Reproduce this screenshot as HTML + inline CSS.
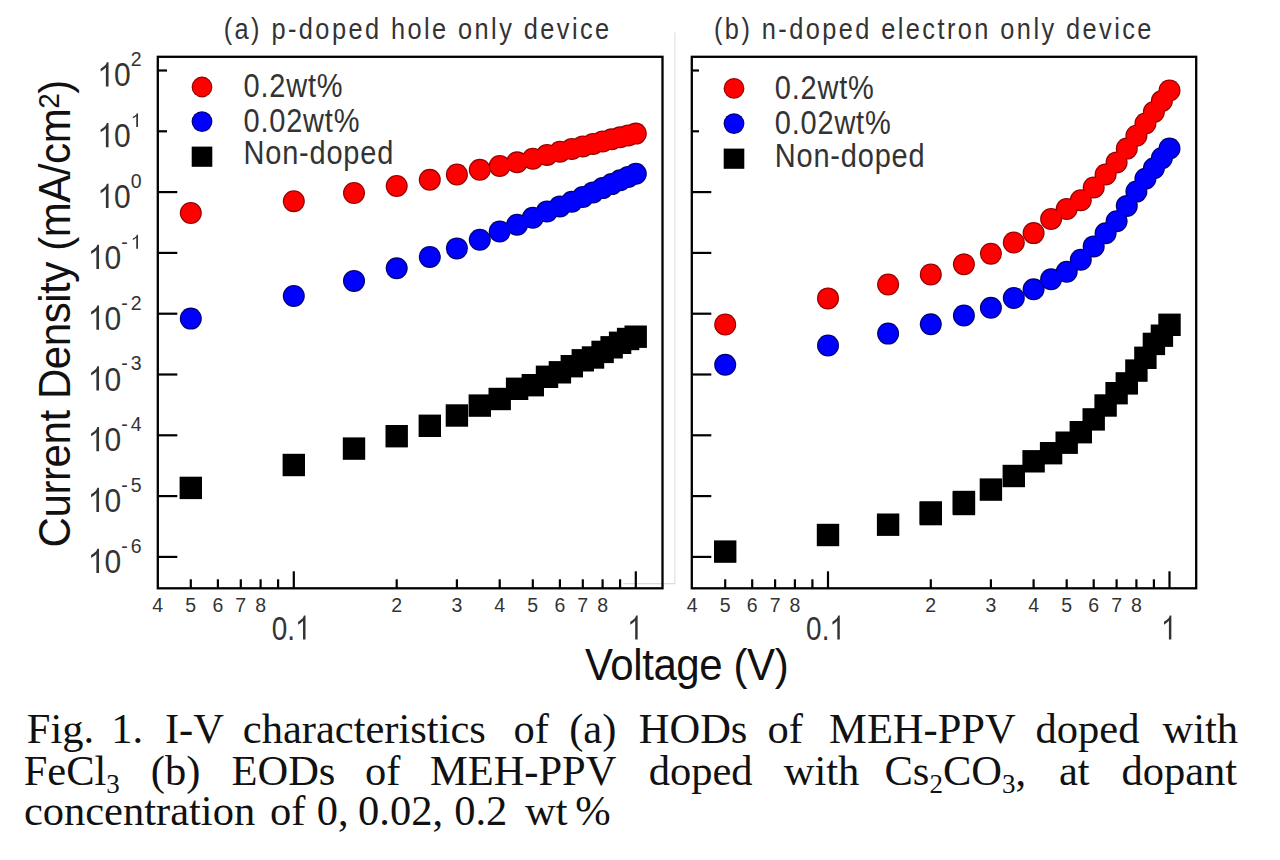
<!DOCTYPE html>
<html><head><meta charset="utf-8"><style>
html,body{margin:0;padding:0;background:#fff;width:1280px;height:860px;overflow:hidden}
svg{position:absolute;left:0;top:0;font-family:"Liberation Sans",sans-serif}
.cw{position:absolute;font-family:"Liberation Serif",serif;font-size:42.5px;color:#111;white-space:nowrap;line-height:1}
sub{font-size:27px;vertical-align:baseline;position:relative;top:8px}
</style></head><body>
<svg width="1280" height="860" viewBox="0 0 1280 860">
<line x1="674.9" y1="32.4" x2="674.9" y2="583.7" stroke="#e2e2e2" stroke-width="1.2"/>
<line x1="623.3" y1="583.7" x2="674.9" y2="583.7" stroke="#dcdcdc" stroke-width="1.2"/>
<line x1="157.8" y1="70.5" x2="177.3" y2="70.5" stroke="#000" stroke-width="2.2"/>
<line x1="157.8" y1="131.3" x2="177.3" y2="131.3" stroke="#000" stroke-width="2.2"/>
<line x1="157.8" y1="192.1" x2="177.3" y2="192.1" stroke="#000" stroke-width="2.2"/>
<line x1="157.8" y1="252.9" x2="177.3" y2="252.9" stroke="#000" stroke-width="2.2"/>
<line x1="157.8" y1="313.7" x2="177.3" y2="313.7" stroke="#000" stroke-width="2.2"/>
<line x1="157.8" y1="374.5" x2="177.3" y2="374.5" stroke="#000" stroke-width="2.2"/>
<line x1="157.8" y1="435.3" x2="177.3" y2="435.3" stroke="#000" stroke-width="2.2"/>
<line x1="157.8" y1="496.1" x2="177.3" y2="496.1" stroke="#000" stroke-width="2.2"/>
<line x1="157.8" y1="556.9" x2="177.3" y2="556.9" stroke="#000" stroke-width="2.2"/>
<line x1="190.8" y1="588.3" x2="190.8" y2="579.3" stroke="#000" stroke-width="2.2"/>
<line x1="217.9" y1="588.3" x2="217.9" y2="579.3" stroke="#000" stroke-width="2.2"/>
<line x1="240.8" y1="588.3" x2="240.8" y2="579.3" stroke="#000" stroke-width="2.2"/>
<line x1="260.6" y1="588.3" x2="260.6" y2="579.3" stroke="#000" stroke-width="2.2"/>
<line x1="278.1" y1="588.3" x2="278.1" y2="579.3" stroke="#000" stroke-width="2.2"/>
<line x1="396.7" y1="588.3" x2="396.7" y2="579.3" stroke="#000" stroke-width="2.2"/>
<line x1="456.9" y1="588.3" x2="456.9" y2="579.3" stroke="#000" stroke-width="2.2"/>
<line x1="499.7" y1="588.3" x2="499.7" y2="579.3" stroke="#000" stroke-width="2.2"/>
<line x1="532.8" y1="588.3" x2="532.8" y2="579.3" stroke="#000" stroke-width="2.2"/>
<line x1="559.9" y1="588.3" x2="559.9" y2="579.3" stroke="#000" stroke-width="2.2"/>
<line x1="582.8" y1="588.3" x2="582.8" y2="579.3" stroke="#000" stroke-width="2.2"/>
<line x1="602.6" y1="588.3" x2="602.6" y2="579.3" stroke="#000" stroke-width="2.2"/>
<line x1="620.1" y1="588.3" x2="620.1" y2="579.3" stroke="#000" stroke-width="2.2"/>
<line x1="293.8" y1="588.3" x2="293.8" y2="571.3" stroke="#000" stroke-width="2.2"/>
<line x1="635.8" y1="588.3" x2="635.8" y2="571.3" stroke="#000" stroke-width="2.2"/>
<text x="157.7" y="612.3" font-size="19.5" text-anchor="middle" fill="#333333">4</text>
<text x="190.8" y="612.3" font-size="19.5" text-anchor="middle" fill="#333333">5</text>
<text x="217.9" y="612.3" font-size="19.5" text-anchor="middle" fill="#333333">6</text>
<text x="240.8" y="612.3" font-size="19.5" text-anchor="middle" fill="#333333">7</text>
<text x="260.6" y="612.3" font-size="19.5" text-anchor="middle" fill="#333333">8</text>
<text x="396.7" y="612.3" font-size="19.5" text-anchor="middle" fill="#333333">2</text>
<text x="456.9" y="612.3" font-size="19.5" text-anchor="middle" fill="#333333">3</text>
<text x="499.7" y="612.3" font-size="19.5" text-anchor="middle" fill="#333333">4</text>
<text x="532.8" y="612.3" font-size="19.5" text-anchor="middle" fill="#333333">5</text>
<text x="559.9" y="612.3" font-size="19.5" text-anchor="middle" fill="#333333">6</text>
<text x="582.8" y="612.3" font-size="19.5" text-anchor="middle" fill="#333333">7</text>
<text x="602.6" y="612.3" font-size="19.5" text-anchor="middle" fill="#333333">8</text>
<g transform="translate(291.2,639.5) scale(0.93,1.12)"><text x="-20.85" y="0" font-size="30" fill="#333333">0.</text><path d="M373 0L285 0L285 560C263 540 240 520 211 500C178 478 143 458 109 441L109 526C160 552 220 590 271 632C290 655 305 685 316 716L373 716Z" fill="#333333" transform="translate(4.17,0.00) scale(0.03000,-0.03000)"/></g>
<g transform="translate(635.0,639.5) scale(0.93,1.12)"><path d="M373 0L285 0L285 560C263 540 240 520 211 500C178 478 143 458 109 441L109 526C160 552 220 590 271 632C290 655 305 685 316 716L373 716Z" fill="#333333" transform="translate(-8.34,0.00) scale(0.03000,-0.03000)"/></g>
<line x1="691.8" y1="70.5" x2="711.3" y2="70.5" stroke="#000" stroke-width="2.2"/>
<line x1="691.8" y1="131.3" x2="711.3" y2="131.3" stroke="#000" stroke-width="2.2"/>
<line x1="691.8" y1="192.1" x2="711.3" y2="192.1" stroke="#000" stroke-width="2.2"/>
<line x1="691.8" y1="252.9" x2="711.3" y2="252.9" stroke="#000" stroke-width="2.2"/>
<line x1="691.8" y1="313.7" x2="711.3" y2="313.7" stroke="#000" stroke-width="2.2"/>
<line x1="691.8" y1="374.5" x2="711.3" y2="374.5" stroke="#000" stroke-width="2.2"/>
<line x1="691.8" y1="435.3" x2="711.3" y2="435.3" stroke="#000" stroke-width="2.2"/>
<line x1="691.8" y1="496.1" x2="711.3" y2="496.1" stroke="#000" stroke-width="2.2"/>
<line x1="691.8" y1="556.9" x2="711.3" y2="556.9" stroke="#000" stroke-width="2.2"/>
<line x1="725.2" y1="588.3" x2="725.2" y2="579.3" stroke="#000" stroke-width="2.2"/>
<line x1="752.2" y1="588.3" x2="752.2" y2="579.3" stroke="#000" stroke-width="2.2"/>
<line x1="775.1" y1="588.3" x2="775.1" y2="579.3" stroke="#000" stroke-width="2.2"/>
<line x1="794.9" y1="588.3" x2="794.9" y2="579.3" stroke="#000" stroke-width="2.2"/>
<line x1="812.4" y1="588.3" x2="812.4" y2="579.3" stroke="#000" stroke-width="2.2"/>
<line x1="930.8" y1="588.3" x2="930.8" y2="579.3" stroke="#000" stroke-width="2.2"/>
<line x1="990.9" y1="588.3" x2="990.9" y2="579.3" stroke="#000" stroke-width="2.2"/>
<line x1="1033.6" y1="588.3" x2="1033.6" y2="579.3" stroke="#000" stroke-width="2.2"/>
<line x1="1066.7" y1="588.3" x2="1066.7" y2="579.3" stroke="#000" stroke-width="2.2"/>
<line x1="1093.7" y1="588.3" x2="1093.7" y2="579.3" stroke="#000" stroke-width="2.2"/>
<line x1="1116.6" y1="588.3" x2="1116.6" y2="579.3" stroke="#000" stroke-width="2.2"/>
<line x1="1136.4" y1="588.3" x2="1136.4" y2="579.3" stroke="#000" stroke-width="2.2"/>
<line x1="1153.9" y1="588.3" x2="1153.9" y2="579.3" stroke="#000" stroke-width="2.2"/>
<line x1="828.0" y1="588.3" x2="828.0" y2="571.3" stroke="#000" stroke-width="2.2"/>
<line x1="1169.5" y1="588.3" x2="1169.5" y2="571.3" stroke="#000" stroke-width="2.2"/>
<text x="692.1" y="612.3" font-size="19.5" text-anchor="middle" fill="#333333">4</text>
<text x="725.2" y="612.3" font-size="19.5" text-anchor="middle" fill="#333333">5</text>
<text x="752.2" y="612.3" font-size="19.5" text-anchor="middle" fill="#333333">6</text>
<text x="775.1" y="612.3" font-size="19.5" text-anchor="middle" fill="#333333">7</text>
<text x="794.9" y="612.3" font-size="19.5" text-anchor="middle" fill="#333333">8</text>
<text x="930.8" y="612.3" font-size="19.5" text-anchor="middle" fill="#333333">2</text>
<text x="990.9" y="612.3" font-size="19.5" text-anchor="middle" fill="#333333">3</text>
<text x="1033.6" y="612.3" font-size="19.5" text-anchor="middle" fill="#333333">4</text>
<text x="1066.7" y="612.3" font-size="19.5" text-anchor="middle" fill="#333333">5</text>
<text x="1093.7" y="612.3" font-size="19.5" text-anchor="middle" fill="#333333">6</text>
<text x="1116.6" y="612.3" font-size="19.5" text-anchor="middle" fill="#333333">7</text>
<text x="1136.4" y="612.3" font-size="19.5" text-anchor="middle" fill="#333333">8</text>
<g transform="translate(825.5,639.5) scale(0.93,1.12)"><text x="-20.85" y="0" font-size="30" fill="#333333">0.</text><path d="M373 0L285 0L285 560C263 540 240 520 211 500C178 478 143 458 109 441L109 526C160 552 220 590 271 632C290 655 305 685 316 716L373 716Z" fill="#333333" transform="translate(4.17,0.00) scale(0.03000,-0.03000)"/></g>
<g transform="translate(1168.7,639.5) scale(0.93,1.12)"><path d="M373 0L285 0L285 560C263 540 240 520 211 500C178 478 143 458 109 441L109 526C160 552 220 590 271 632C290 655 305 685 316 716L373 716Z" fill="#333333" transform="translate(-8.34,0.00) scale(0.03000,-0.03000)"/></g>
<path d="M373 0L285 0L285 560C263 540 240 520 211 500C178 478 143 458 109 441L109 526C160 552 220 590 271 632C290 655 305 685 316 716L373 716Z" fill="#333333" transform="translate(97.34,86.50) scale(0.03000,-0.03390)"/>
<text x="114.02" y="86.5" font-size="30" fill="#333333" transform="matrix(1,0,0,1.13,0,-11.24)">0</text>
<text x="130.7" y="66.3" font-size="19.5" fill="#333333">2</text>
<path d="M373 0L285 0L285 560C263 540 240 520 211 500C178 478 143 458 109 441L109 526C160 552 220 590 271 632C290 655 305 685 316 716L373 716Z" fill="#333333" transform="translate(97.34,147.30) scale(0.03000,-0.03390)"/>
<text x="114.02" y="147.3" font-size="30" fill="#333333" transform="matrix(1,0,0,1.13,0,-19.15)">0</text>
<path d="M373 0L285 0L285 560C263 540 240 520 211 500C178 478 143 458 109 441L109 526C160 552 220 590 271 632C290 655 305 685 316 716L373 716Z" fill="#333333" transform="translate(130.70,127.10) scale(0.01950,-0.01950)"/>
<path d="M373 0L285 0L285 560C263 540 240 520 211 500C178 478 143 458 109 441L109 526C160 552 220 590 271 632C290 655 305 685 316 716L373 716Z" fill="#333333" transform="translate(97.34,208.10) scale(0.03000,-0.03390)"/>
<text x="114.02" y="208.1" font-size="30" fill="#333333" transform="matrix(1,0,0,1.13,0,-27.05)">0</text>
<text x="130.7" y="187.9" font-size="19.5" fill="#333333">0</text>
<path d="M373 0L285 0L285 560C263 540 240 520 211 500C178 478 143 458 109 441L109 526C160 552 220 590 271 632C290 655 305 685 316 716L373 716Z" fill="#333333" transform="translate(87.84,268.90) scale(0.03000,-0.03390)"/>
<text x="104.52" y="268.9" font-size="30" fill="#333333" transform="matrix(1,0,0,1.13,0,-34.96)">0</text>
<text x="121.2" y="248.7" font-size="19.5" fill="#333333">-</text>
<path d="M373 0L285 0L285 560C263 540 240 520 211 500C178 478 143 458 109 441L109 526C160 552 220 590 271 632C290 655 305 685 316 716L373 716Z" fill="#333333" transform="translate(130.70,248.70) scale(0.01950,-0.01950)"/>
<path d="M373 0L285 0L285 560C263 540 240 520 211 500C178 478 143 458 109 441L109 526C160 552 220 590 271 632C290 655 305 685 316 716L373 716Z" fill="#333333" transform="translate(87.84,329.70) scale(0.03000,-0.03390)"/>
<text x="104.52" y="329.7" font-size="30" fill="#333333" transform="matrix(1,0,0,1.13,0,-42.86)">0</text>
<text x="121.2" y="309.5" font-size="19.5" fill="#333333">-</text>
<text x="130.7" y="309.5" font-size="19.5" fill="#333333">2</text>
<path d="M373 0L285 0L285 560C263 540 240 520 211 500C178 478 143 458 109 441L109 526C160 552 220 590 271 632C290 655 305 685 316 716L373 716Z" fill="#333333" transform="translate(87.84,390.50) scale(0.03000,-0.03390)"/>
<text x="104.52" y="390.5" font-size="30" fill="#333333" transform="matrix(1,0,0,1.13,0,-50.76)">0</text>
<text x="121.2" y="370.3" font-size="19.5" fill="#333333">-</text>
<text x="130.7" y="370.3" font-size="19.5" fill="#333333">3</text>
<path d="M373 0L285 0L285 560C263 540 240 520 211 500C178 478 143 458 109 441L109 526C160 552 220 590 271 632C290 655 305 685 316 716L373 716Z" fill="#333333" transform="translate(87.84,451.30) scale(0.03000,-0.03390)"/>
<text x="104.52" y="451.3" font-size="30" fill="#333333" transform="matrix(1,0,0,1.13,0,-58.67)">0</text>
<text x="121.2" y="431.1" font-size="19.5" fill="#333333">-</text>
<text x="130.7" y="431.1" font-size="19.5" fill="#333333">4</text>
<path d="M373 0L285 0L285 560C263 540 240 520 211 500C178 478 143 458 109 441L109 526C160 552 220 590 271 632C290 655 305 685 316 716L373 716Z" fill="#333333" transform="translate(87.84,512.10) scale(0.03000,-0.03390)"/>
<text x="104.52" y="512.1" font-size="30" fill="#333333" transform="matrix(1,0,0,1.13,0,-66.57)">0</text>
<text x="121.2" y="491.9" font-size="19.5" fill="#333333">-</text>
<text x="130.7" y="491.9" font-size="19.5" fill="#333333">5</text>
<path d="M373 0L285 0L285 560C263 540 240 520 211 500C178 478 143 458 109 441L109 526C160 552 220 590 271 632C290 655 305 685 316 716L373 716Z" fill="#333333" transform="translate(87.84,572.90) scale(0.03000,-0.03390)"/>
<text x="104.52" y="572.9" font-size="30" fill="#333333" transform="matrix(1,0,0,1.13,0,-74.48)">0</text>
<text x="121.2" y="552.7" font-size="19.5" fill="#333333">-</text>
<text x="130.7" y="552.7" font-size="19.5" fill="#333333">6</text>
<rect x="179.6" y="476.7" width="22.4" height="22.4" fill="#000"/>
<rect x="282.6" y="453.8" width="22.4" height="22.4" fill="#000"/>
<rect x="342.8" y="437.4" width="22.4" height="22.4" fill="#000"/>
<rect x="385.5" y="425.0" width="22.4" height="22.4" fill="#000"/>
<rect x="418.6" y="414.6" width="22.4" height="22.4" fill="#000"/>
<rect x="445.7" y="404.3" width="22.4" height="22.4" fill="#000"/>
<rect x="468.6" y="394.4" width="22.4" height="22.4" fill="#000"/>
<rect x="488.5" y="387.8" width="22.4" height="22.4" fill="#000"/>
<rect x="505.9" y="377.6" width="22.4" height="22.4" fill="#000"/>
<rect x="521.6" y="374.0" width="22.4" height="22.4" fill="#000"/>
<rect x="535.8" y="365.6" width="22.4" height="22.4" fill="#000"/>
<rect x="548.7" y="361.1" width="22.4" height="22.4" fill="#000"/>
<rect x="560.6" y="355.0" width="22.4" height="22.4" fill="#000"/>
<rect x="571.6" y="349.1" width="22.4" height="22.4" fill="#000"/>
<rect x="581.8" y="346.3" width="22.4" height="22.4" fill="#000"/>
<rect x="591.4" y="340.7" width="22.4" height="22.4" fill="#000"/>
<rect x="600.4" y="336.1" width="22.4" height="22.4" fill="#000"/>
<rect x="608.9" y="331.6" width="22.4" height="22.4" fill="#000"/>
<rect x="616.9" y="327.8" width="22.4" height="22.4" fill="#000"/>
<rect x="624.5" y="325.5" width="22.4" height="22.4" fill="#000"/>
<circle cx="190.8" cy="318.6" r="11.0" fill="#000070"/>
<circle cx="293.8" cy="296.0" r="11.0" fill="#000070"/>
<circle cx="354.0" cy="280.9" r="11.0" fill="#000070"/>
<circle cx="396.7" cy="268.3" r="11.0" fill="#000070"/>
<circle cx="429.8" cy="256.9" r="11.0" fill="#000070"/>
<circle cx="456.9" cy="248.4" r="11.0" fill="#000070"/>
<circle cx="479.8" cy="239.7" r="11.0" fill="#000070"/>
<circle cx="499.7" cy="231.5" r="11.0" fill="#000070"/>
<circle cx="517.1" cy="224.7" r="11.0" fill="#000070"/>
<circle cx="532.8" cy="217.7" r="11.0" fill="#000070"/>
<circle cx="547.0" cy="211.4" r="11.0" fill="#000070"/>
<circle cx="559.9" cy="206.4" r="11.0" fill="#000070"/>
<circle cx="571.8" cy="201.8" r="11.0" fill="#000070"/>
<circle cx="582.8" cy="197.0" r="11.0" fill="#000070"/>
<circle cx="593.0" cy="192.4" r="11.0" fill="#000070"/>
<circle cx="602.6" cy="188.1" r="11.0" fill="#000070"/>
<circle cx="611.6" cy="184.1" r="11.0" fill="#000070"/>
<circle cx="620.1" cy="180.3" r="11.0" fill="#000070"/>
<circle cx="628.1" cy="176.9" r="11.0" fill="#000070"/>
<circle cx="635.8" cy="173.7" r="11.0" fill="#000070"/>
<circle cx="190.8" cy="318.6" r="9.9" fill="#0000ff"/>
<circle cx="293.8" cy="296.0" r="9.9" fill="#0000ff"/>
<circle cx="354.0" cy="280.9" r="9.9" fill="#0000ff"/>
<circle cx="396.7" cy="268.3" r="9.9" fill="#0000ff"/>
<circle cx="429.8" cy="256.9" r="9.9" fill="#0000ff"/>
<circle cx="456.9" cy="248.4" r="9.9" fill="#0000ff"/>
<circle cx="479.8" cy="239.7" r="9.9" fill="#0000ff"/>
<circle cx="499.7" cy="231.5" r="9.9" fill="#0000ff"/>
<circle cx="517.1" cy="224.7" r="9.9" fill="#0000ff"/>
<circle cx="532.8" cy="217.7" r="9.9" fill="#0000ff"/>
<circle cx="547.0" cy="211.4" r="9.9" fill="#0000ff"/>
<circle cx="559.9" cy="206.4" r="9.9" fill="#0000ff"/>
<circle cx="571.8" cy="201.8" r="9.9" fill="#0000ff"/>
<circle cx="582.8" cy="197.0" r="9.9" fill="#0000ff"/>
<circle cx="593.0" cy="192.4" r="9.9" fill="#0000ff"/>
<circle cx="602.6" cy="188.1" r="9.9" fill="#0000ff"/>
<circle cx="611.6" cy="184.1" r="9.9" fill="#0000ff"/>
<circle cx="620.1" cy="180.3" r="9.9" fill="#0000ff"/>
<circle cx="628.1" cy="176.9" r="9.9" fill="#0000ff"/>
<circle cx="635.8" cy="173.7" r="9.9" fill="#0000ff"/>
<circle cx="190.8" cy="213.0" r="11.0" fill="#900000"/>
<circle cx="293.8" cy="201.2" r="11.0" fill="#900000"/>
<circle cx="354.0" cy="193.0" r="11.0" fill="#900000"/>
<circle cx="396.7" cy="186.0" r="11.0" fill="#900000"/>
<circle cx="429.8" cy="179.8" r="11.0" fill="#900000"/>
<circle cx="456.9" cy="174.5" r="11.0" fill="#900000"/>
<circle cx="479.8" cy="169.8" r="11.0" fill="#900000"/>
<circle cx="499.7" cy="166.0" r="11.0" fill="#900000"/>
<circle cx="517.1" cy="162.3" r="11.0" fill="#900000"/>
<circle cx="532.8" cy="158.7" r="11.0" fill="#900000"/>
<circle cx="547.0" cy="154.9" r="11.0" fill="#900000"/>
<circle cx="559.9" cy="151.7" r="11.0" fill="#900000"/>
<circle cx="571.8" cy="148.9" r="11.0" fill="#900000"/>
<circle cx="582.8" cy="146.4" r="11.0" fill="#900000"/>
<circle cx="593.0" cy="143.9" r="11.0" fill="#900000"/>
<circle cx="602.6" cy="141.5" r="11.0" fill="#900000"/>
<circle cx="611.6" cy="139.3" r="11.0" fill="#900000"/>
<circle cx="620.1" cy="137.3" r="11.0" fill="#900000"/>
<circle cx="628.1" cy="135.4" r="11.0" fill="#900000"/>
<circle cx="635.8" cy="133.6" r="11.0" fill="#900000"/>
<circle cx="190.8" cy="213.0" r="9.9" fill="#ff0000"/>
<circle cx="293.8" cy="201.2" r="9.9" fill="#ff0000"/>
<circle cx="354.0" cy="193.0" r="9.9" fill="#ff0000"/>
<circle cx="396.7" cy="186.0" r="9.9" fill="#ff0000"/>
<circle cx="429.8" cy="179.8" r="9.9" fill="#ff0000"/>
<circle cx="456.9" cy="174.5" r="9.9" fill="#ff0000"/>
<circle cx="479.8" cy="169.8" r="9.9" fill="#ff0000"/>
<circle cx="499.7" cy="166.0" r="9.9" fill="#ff0000"/>
<circle cx="517.1" cy="162.3" r="9.9" fill="#ff0000"/>
<circle cx="532.8" cy="158.7" r="9.9" fill="#ff0000"/>
<circle cx="547.0" cy="154.9" r="9.9" fill="#ff0000"/>
<circle cx="559.9" cy="151.7" r="9.9" fill="#ff0000"/>
<circle cx="571.8" cy="148.9" r="9.9" fill="#ff0000"/>
<circle cx="582.8" cy="146.4" r="9.9" fill="#ff0000"/>
<circle cx="593.0" cy="143.9" r="9.9" fill="#ff0000"/>
<circle cx="602.6" cy="141.5" r="9.9" fill="#ff0000"/>
<circle cx="611.6" cy="139.3" r="9.9" fill="#ff0000"/>
<circle cx="620.1" cy="137.3" r="9.9" fill="#ff0000"/>
<circle cx="628.1" cy="135.4" r="9.9" fill="#ff0000"/>
<circle cx="635.8" cy="133.6" r="9.9" fill="#ff0000"/>
<rect x="714.0" y="540.4" width="22.4" height="22.4" fill="#000"/>
<rect x="816.8" y="523.8" width="22.4" height="22.4" fill="#000"/>
<rect x="876.9" y="513.5" width="22.4" height="22.4" fill="#000"/>
<rect x="919.6" y="501.8" width="22.4" height="22.4" fill="#000"/>
<rect x="952.7" y="491.8" width="22.4" height="22.4" fill="#000"/>
<rect x="979.7" y="478.4" width="22.4" height="22.4" fill="#000"/>
<rect x="1002.6" y="464.8" width="22.4" height="22.4" fill="#000"/>
<rect x="1022.4" y="450.1" width="22.4" height="22.4" fill="#000"/>
<rect x="1039.9" y="442.0" width="22.4" height="22.4" fill="#000"/>
<rect x="1055.5" y="431.5" width="22.4" height="22.4" fill="#000"/>
<rect x="1069.6" y="421.0" width="22.4" height="22.4" fill="#000"/>
<rect x="1082.5" y="408.2" width="22.4" height="22.4" fill="#000"/>
<rect x="1094.4" y="394.3" width="22.4" height="22.4" fill="#000"/>
<rect x="1105.4" y="382.0" width="22.4" height="22.4" fill="#000"/>
<rect x="1115.6" y="372.2" width="22.4" height="22.4" fill="#000"/>
<rect x="1125.2" y="359.4" width="22.4" height="22.4" fill="#000"/>
<rect x="1134.2" y="346.6" width="22.4" height="22.4" fill="#000"/>
<rect x="1142.7" y="332.7" width="22.4" height="22.4" fill="#000"/>
<rect x="1150.7" y="324.5" width="22.4" height="22.4" fill="#000"/>
<rect x="1158.3" y="313.6" width="22.4" height="22.4" fill="#000"/>
<circle cx="725.2" cy="364.8" r="11.0" fill="#000070"/>
<circle cx="828.0" cy="345.5" r="11.0" fill="#000070"/>
<circle cx="888.1" cy="333.6" r="11.0" fill="#000070"/>
<circle cx="930.8" cy="324.3" r="11.0" fill="#000070"/>
<circle cx="963.9" cy="315.5" r="11.0" fill="#000070"/>
<circle cx="990.9" cy="307.8" r="11.0" fill="#000070"/>
<circle cx="1013.8" cy="298.0" r="11.0" fill="#000070"/>
<circle cx="1033.6" cy="289.3" r="11.0" fill="#000070"/>
<circle cx="1051.1" cy="279.3" r="11.0" fill="#000070"/>
<circle cx="1066.7" cy="271.8" r="11.0" fill="#000070"/>
<circle cx="1080.8" cy="259.7" r="11.0" fill="#000070"/>
<circle cx="1093.7" cy="246.4" r="11.0" fill="#000070"/>
<circle cx="1105.6" cy="233.3" r="11.0" fill="#000070"/>
<circle cx="1116.6" cy="221.2" r="11.0" fill="#000070"/>
<circle cx="1126.8" cy="205.9" r="11.0" fill="#000070"/>
<circle cx="1136.4" cy="191.6" r="11.0" fill="#000070"/>
<circle cx="1145.4" cy="178.8" r="11.0" fill="#000070"/>
<circle cx="1153.9" cy="168.2" r="11.0" fill="#000070"/>
<circle cx="1161.9" cy="158.1" r="11.0" fill="#000070"/>
<circle cx="1169.5" cy="148.5" r="11.0" fill="#000070"/>
<circle cx="725.2" cy="364.8" r="9.9" fill="#0000ff"/>
<circle cx="828.0" cy="345.5" r="9.9" fill="#0000ff"/>
<circle cx="888.1" cy="333.6" r="9.9" fill="#0000ff"/>
<circle cx="930.8" cy="324.3" r="9.9" fill="#0000ff"/>
<circle cx="963.9" cy="315.5" r="9.9" fill="#0000ff"/>
<circle cx="990.9" cy="307.8" r="9.9" fill="#0000ff"/>
<circle cx="1013.8" cy="298.0" r="9.9" fill="#0000ff"/>
<circle cx="1033.6" cy="289.3" r="9.9" fill="#0000ff"/>
<circle cx="1051.1" cy="279.3" r="9.9" fill="#0000ff"/>
<circle cx="1066.7" cy="271.8" r="9.9" fill="#0000ff"/>
<circle cx="1080.8" cy="259.7" r="9.9" fill="#0000ff"/>
<circle cx="1093.7" cy="246.4" r="9.9" fill="#0000ff"/>
<circle cx="1105.6" cy="233.3" r="9.9" fill="#0000ff"/>
<circle cx="1116.6" cy="221.2" r="9.9" fill="#0000ff"/>
<circle cx="1126.8" cy="205.9" r="9.9" fill="#0000ff"/>
<circle cx="1136.4" cy="191.6" r="9.9" fill="#0000ff"/>
<circle cx="1145.4" cy="178.8" r="9.9" fill="#0000ff"/>
<circle cx="1153.9" cy="168.2" r="9.9" fill="#0000ff"/>
<circle cx="1161.9" cy="158.1" r="9.9" fill="#0000ff"/>
<circle cx="1169.5" cy="148.5" r="9.9" fill="#0000ff"/>
<circle cx="725.2" cy="324.5" r="11.0" fill="#900000"/>
<circle cx="828.0" cy="298.4" r="11.0" fill="#900000"/>
<circle cx="888.1" cy="284.5" r="11.0" fill="#900000"/>
<circle cx="930.8" cy="274.5" r="11.0" fill="#900000"/>
<circle cx="963.9" cy="264.3" r="11.0" fill="#900000"/>
<circle cx="990.9" cy="253.7" r="11.0" fill="#900000"/>
<circle cx="1013.8" cy="242.5" r="11.0" fill="#900000"/>
<circle cx="1033.6" cy="233.1" r="11.0" fill="#900000"/>
<circle cx="1051.1" cy="219.0" r="11.0" fill="#900000"/>
<circle cx="1066.7" cy="209.0" r="11.0" fill="#900000"/>
<circle cx="1080.8" cy="200.2" r="11.0" fill="#900000"/>
<circle cx="1093.7" cy="187.5" r="11.0" fill="#900000"/>
<circle cx="1105.6" cy="174.5" r="11.0" fill="#900000"/>
<circle cx="1116.6" cy="162.4" r="11.0" fill="#900000"/>
<circle cx="1126.8" cy="148.6" r="11.0" fill="#900000"/>
<circle cx="1136.4" cy="135.7" r="11.0" fill="#900000"/>
<circle cx="1145.4" cy="123.5" r="11.0" fill="#900000"/>
<circle cx="1153.9" cy="111.9" r="11.0" fill="#900000"/>
<circle cx="1161.9" cy="100.9" r="11.0" fill="#900000"/>
<circle cx="1169.5" cy="90.5" r="11.0" fill="#900000"/>
<circle cx="725.2" cy="324.5" r="9.9" fill="#ff0000"/>
<circle cx="828.0" cy="298.4" r="9.9" fill="#ff0000"/>
<circle cx="888.1" cy="284.5" r="9.9" fill="#ff0000"/>
<circle cx="930.8" cy="274.5" r="9.9" fill="#ff0000"/>
<circle cx="963.9" cy="264.3" r="9.9" fill="#ff0000"/>
<circle cx="990.9" cy="253.7" r="9.9" fill="#ff0000"/>
<circle cx="1013.8" cy="242.5" r="9.9" fill="#ff0000"/>
<circle cx="1033.6" cy="233.1" r="9.9" fill="#ff0000"/>
<circle cx="1051.1" cy="219.0" r="9.9" fill="#ff0000"/>
<circle cx="1066.7" cy="209.0" r="9.9" fill="#ff0000"/>
<circle cx="1080.8" cy="200.2" r="9.9" fill="#ff0000"/>
<circle cx="1093.7" cy="187.5" r="9.9" fill="#ff0000"/>
<circle cx="1105.6" cy="174.5" r="9.9" fill="#ff0000"/>
<circle cx="1116.6" cy="162.4" r="9.9" fill="#ff0000"/>
<circle cx="1126.8" cy="148.6" r="9.9" fill="#ff0000"/>
<circle cx="1136.4" cy="135.7" r="9.9" fill="#ff0000"/>
<circle cx="1145.4" cy="123.5" r="9.9" fill="#ff0000"/>
<circle cx="1153.9" cy="111.9" r="9.9" fill="#ff0000"/>
<circle cx="1161.9" cy="100.9" r="9.9" fill="#ff0000"/>
<circle cx="1169.5" cy="90.5" r="9.9" fill="#ff0000"/>
<rect x="919.6" y="501.3" width="22.4" height="24" fill="#000"/>
<rect x="952.7" y="490.8" width="22.4" height="24.4" fill="#000"/>
<rect x="157.8" y="56.8" width="504.7" height="531.5" fill="none" stroke="#000" stroke-width="2.3"/>
<rect x="691.8" y="56.8" width="504.4000000000001" height="531.5" fill="none" stroke="#000" stroke-width="2.3"/>
<rect x="167" y="62" width="240" height="108" fill="#fff"/>
<circle cx="202.0" cy="87.0" r="10.4" fill="#900000"/><circle cx="202.0" cy="87.0" r="9.3" fill="#ff0000"/>
<circle cx="202.0" cy="121.6" r="10.4" fill="#000070"/><circle cx="202.0" cy="121.6" r="9.3" fill="#0000ff"/>
<rect x="191.7" y="146.6" width="20.6" height="20.2" fill="#000"/>
<text x="243.5" y="97" font-size="29" letter-spacing="0.8" fill="#333333" transform="matrix(1,0,0,1.12,0,-11.64)">0.2wt%</text>
<text x="243.5" y="132.3" font-size="29" letter-spacing="0.8" fill="#333333" transform="matrix(1,0,0,1.12,0,-15.88)">0.02wt%</text>
<text x="243.5" y="164" font-size="29" letter-spacing="0.8" fill="#333333" transform="matrix(1,0,0,1.12,0,-19.68)">Non-doped</text>
<rect x="699" y="64" width="240" height="108" fill="#fff"/>
<circle cx="734.0" cy="88.4" r="10.4" fill="#900000"/><circle cx="734.0" cy="88.4" r="9.3" fill="#ff0000"/>
<circle cx="734.0" cy="123.6" r="10.4" fill="#000070"/><circle cx="734.0" cy="123.6" r="9.3" fill="#0000ff"/>
<rect x="723.7" y="148.6" width="20.6" height="20.2" fill="#000"/>
<text x="774.8" y="99.4" font-size="29" letter-spacing="0.8" fill="#333333" transform="matrix(1,0,0,1.12,0,-11.93)">0.2wt%</text>
<text x="774.8" y="133.8" font-size="29" letter-spacing="0.8" fill="#333333" transform="matrix(1,0,0,1.12,0,-16.06)">0.02wt%</text>
<text x="774.8" y="166.9" font-size="29" letter-spacing="0.8" fill="#333333" transform="matrix(1,0,0,1.12,0,-20.03)">Non-doped</text>
<text transform="translate(223.7,38.6) scale(0.86,1)" font-size="29.5" letter-spacing="2.82" fill="#333333">(a) p-doped hole only device</text>
<text transform="translate(714,38.6) scale(0.86,1)" font-size="29.5" letter-spacing="2.82" fill="#333333">(b) n-doped electron only device</text>
<text x="585" y="680" font-size="42" letter-spacing="-0.4" fill="#111" transform="matrix(1,0,0,1.04,0,-27.20)">Voltage (V)</text>
<text transform="translate(69.5,547.4) rotate(-90) scale(1,1.04)" font-size="42" letter-spacing="-0.42" fill="#111">Current Density (mA/cm<tspan dy="-10.4" font-size="28">2</tspan><tspan dy="10.4">)</tspan></text>
</svg>
<span class="cw" style="left:26.8px;top:707.6px">Fig.</span>
<span class="cw" style="left:111.3px;top:707.6px">1.</span>
<span class="cw" style="left:164.9px;top:707.6px">I-V</span>
<span class="cw" style="left:242.8px;top:707.6px">characteristics</span>
<span class="cw" style="left:513.4px;top:707.6px">of</span>
<span class="cw" style="left:569.2px;top:707.6px">(a)</span>
<span class="cw" style="left:638.8px;top:707.6px">HODs</span>
<span class="cw" style="left:767.4px;top:707.6px">of</span>
<span class="cw" style="left:829.1px;top:707.6px">MEH-PPV</span>
<span class="cw" style="left:1035.6px;top:707.6px">doped</span>
<span class="cw" style="left:1162.5px;top:707.6px">with</span>
<span class="cw" style="left:23.7px;top:749.8px">FeCl<sub>3</sub></span>
<span class="cw" style="left:150.8px;top:749.8px">(b)</span>
<span class="cw" style="left:231.5px;top:749.8px">EODs</span>
<span class="cw" style="left:364.9px;top:749.8px">of</span>
<span class="cw" style="left:429.9px;top:749.8px">MEH-PPV</span>
<span class="cw" style="left:648.7px;top:749.8px">doped</span>
<span class="cw" style="left:783.7px;top:749.8px">with</span>
<span class="cw" style="left:884.5px;top:749.8px">Cs<sub>2</sub>CO<sub>3</sub>,</span>
<span class="cw" style="left:1059.0px;top:749.8px">at</span>
<span class="cw" style="left:1121.4px;top:749.8px">dopant</span>
<span class="cw" style="left:23.9px;top:789.8px">concentration</span>
<span class="cw" style="left:270.0px;top:789.8px">of</span>
<span class="cw" style="left:316.8px;top:789.8px">0,</span>
<span class="cw" style="left:358.0px;top:789.8px">0.02,</span>
<span class="cw" style="left:454.2px;top:789.8px">0.2</span>
<span class="cw" style="left:525.0px;top:789.8px">wt</span>
<span class="cw" style="left:575.2px;top:789.8px">%</span>
</body></html>
